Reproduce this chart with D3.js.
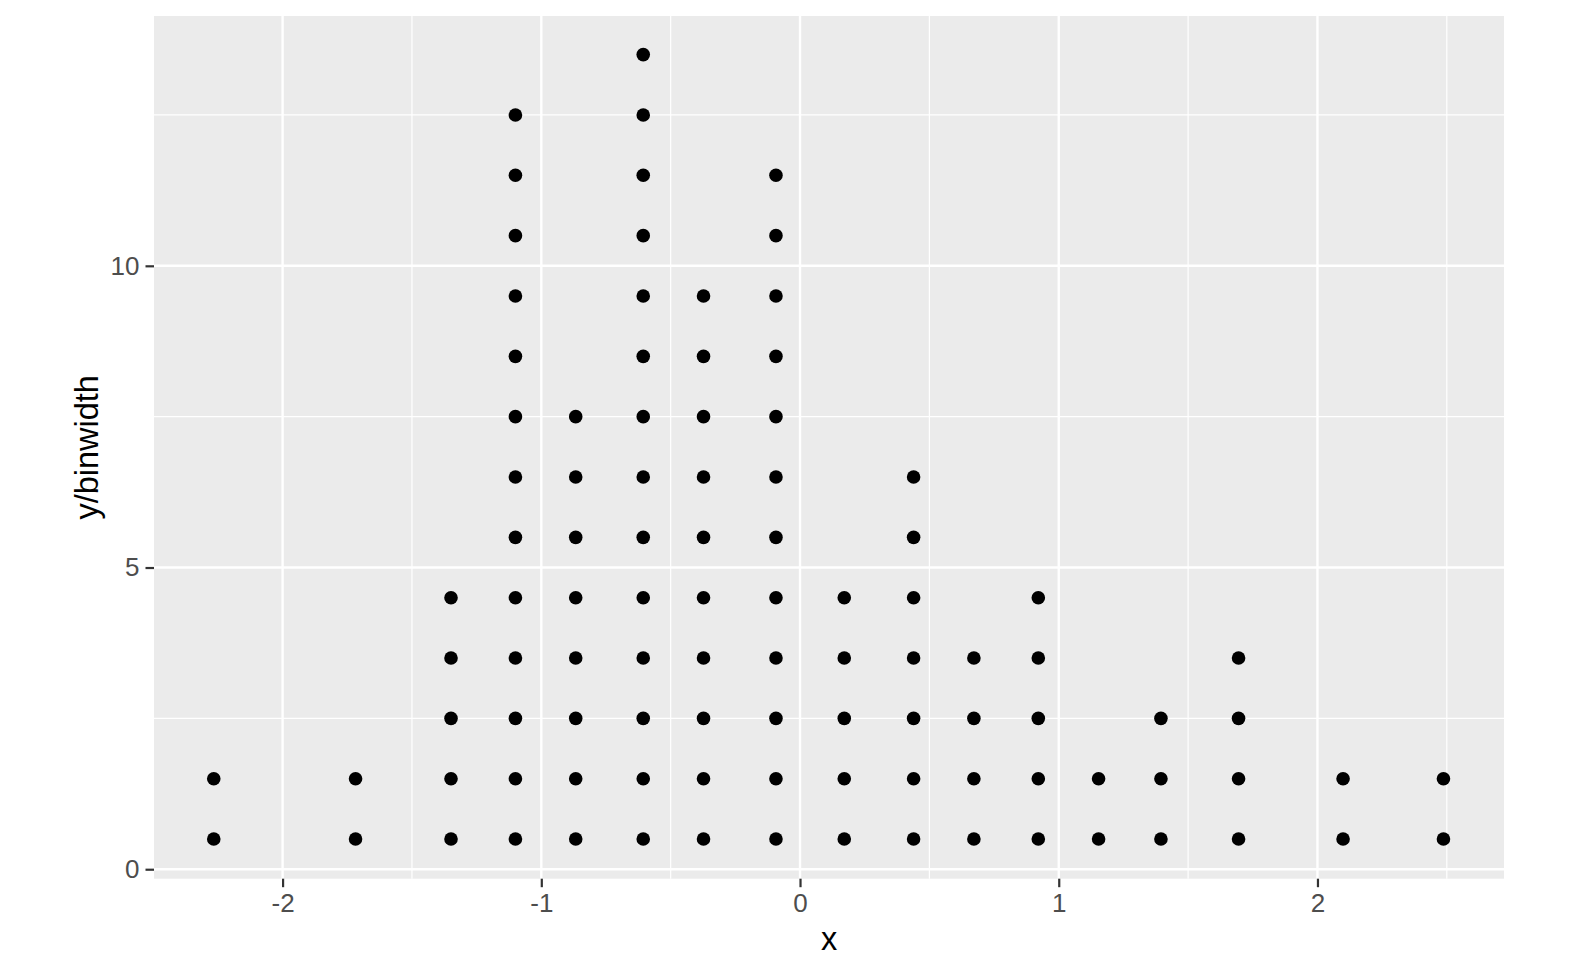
<!DOCTYPE html>
<html>
<head>
<meta charset="utf-8">
<script src="https://cdn.jsdelivr.net/npm/d3@7"></script>
<style>
  body { margin: 0; background: #fff; }
  text { font-family: "Liberation Sans", Arial, sans-serif; }
</style>
</head>
<body>
<div id="vis"></div>
<script>
// bin centres (x) and how many dots are stacked in each bin
const binCenters = [-2.266, -1.718, -1.349, -1.100, -0.867, -0.606, -0.373, -0.093,
  0.171, 0.439, 0.672, 0.921, 1.154, 1.395, 1.695, 2.099, 2.487]
const binCounts = [2, 2, 5, 13, 8, 14, 10, 12, 5, 7, 4, 5, 2, 3, 4, 2, 2]

const xTicks = [-2, -1, 0, 1, 2]
const xMinor = [-2.5, -1.5, -0.5, 0.5, 1.5, 2.5]
const yTicks = [0, 5, 10]
const yMinor = [2.5, 7.5, 12.5]

const width = 1575,
  height = 973
const panel = { left: 154, right: 1504, top: 16, bottom: 878.7 }

const svg = d3.select('#vis')
  .append('svg')
  .attr('width', width)
  .attr('height', height)

const x = d3.scaleLinear().domain([-2.497, 2.721]).range([panel.left, panel.right])
const y = d3.scaleLinear().domain([-0.157, 14.14]).range([panel.bottom, panel.top])

// panel background
svg.append('rect')
  .attr('x', panel.left)
  .attr('y', panel.top)
  .attr('width', panel.right - panel.left)
  .attr('height', panel.bottom - panel.top)
  .attr('fill', '#EBEBEB')

const grid = svg.append('g')

// minor grid
grid.selectAll('.xminor')
  .data(xMinor.filter((d) => x(d) > panel.left + 1 && x(d) < panel.right))
  .enter()
  .append('line')
  .attr('x1', (d) => x(d)).attr('x2', (d) => x(d))
  .attr('y1', panel.top).attr('y2', panel.bottom)
  .attr('stroke', '#fff').attr('stroke-width', 1.2)

grid.selectAll('.yminor')
  .data(yMinor)
  .enter()
  .append('line')
  .attr('y1', (d) => y(d)).attr('y2', (d) => y(d))
  .attr('x1', panel.left).attr('x2', panel.right)
  .attr('stroke', '#fff').attr('stroke-width', 1.2)

// major grid
grid.selectAll('.xmajor')
  .data(xTicks)
  .enter()
  .append('line')
  .attr('x1', (d) => x(d)).attr('x2', (d) => x(d))
  .attr('y1', panel.top).attr('y2', panel.bottom)
  .attr('stroke', '#fff').attr('stroke-width', 2.4)

grid.selectAll('.ymajor')
  .data(yTicks)
  .enter()
  .append('line')
  .attr('y1', (d) => y(d)).attr('y2', (d) => y(d))
  .attr('x1', panel.left).attr('x2', panel.right)
  .attr('stroke', '#fff').attr('stroke-width', 2.4)

// stack the dots in each bin
const dots = []
binCenters.forEach((c, i) => {
  for (let k = 0; k < binCounts[i]; k++) {
    dots.push({ x: c, y: k + 0.5 })
  }
})

svg.append('g')
  .selectAll('circle')
  .data(dots)
  .enter()
  .append('circle')
  .attr('cx', (d) => x(d.x))
  .attr('cy', (d) => y(d.y))
  .attr('r', 6.8)
  .attr('fill', '#000')

// axes
const xAxis = svg.append('g')
  .attr('transform', 'translate(0,' + panel.bottom + ')')
  .call(d3.axisBottom(x).tickValues(xTicks).tickSize(8.5).tickPadding(6).tickFormat(d3.format('d')))

const yAxis = svg.append('g')
  .attr('transform', 'translate(' + panel.left + ',0)')
  .call(d3.axisLeft(y).tickValues(yTicks).tickSize(8.5).tickPadding(6).tickFormat(d3.format('d')))

;[xAxis, yAxis].forEach((a) => {
  a.select('.domain').remove()
  a.selectAll('.tick line').attr('stroke', '#333333').attr('stroke-width', 2.2)
  a.selectAll('.tick text')
    .attr('fill', '#4D4D4D')
    .style('font-size', '26px')
})
// ggplot uses a plain hyphen for negatives
xAxis.selectAll('.tick text').text((d) => String(d).replace('\u2212', '-'))

// axis titles
svg.append('text')
  .attr('x', (panel.left + panel.right) / 2)
  .attr('y', 950)
  .attr('text-anchor', 'middle')
  .style('font-size', '32.5px')
  .attr('fill', '#000')
  .text('x')

svg.append('text')
  .attr('transform', 'translate(98,' + (panel.top + panel.bottom) / 2 + ') rotate(-90)')
  .attr('text-anchor', 'middle')
  .style('font-size', '32.5px')
  .attr('fill', '#000')
  .text('y/binwidth')
</script>
</body>
</html>
